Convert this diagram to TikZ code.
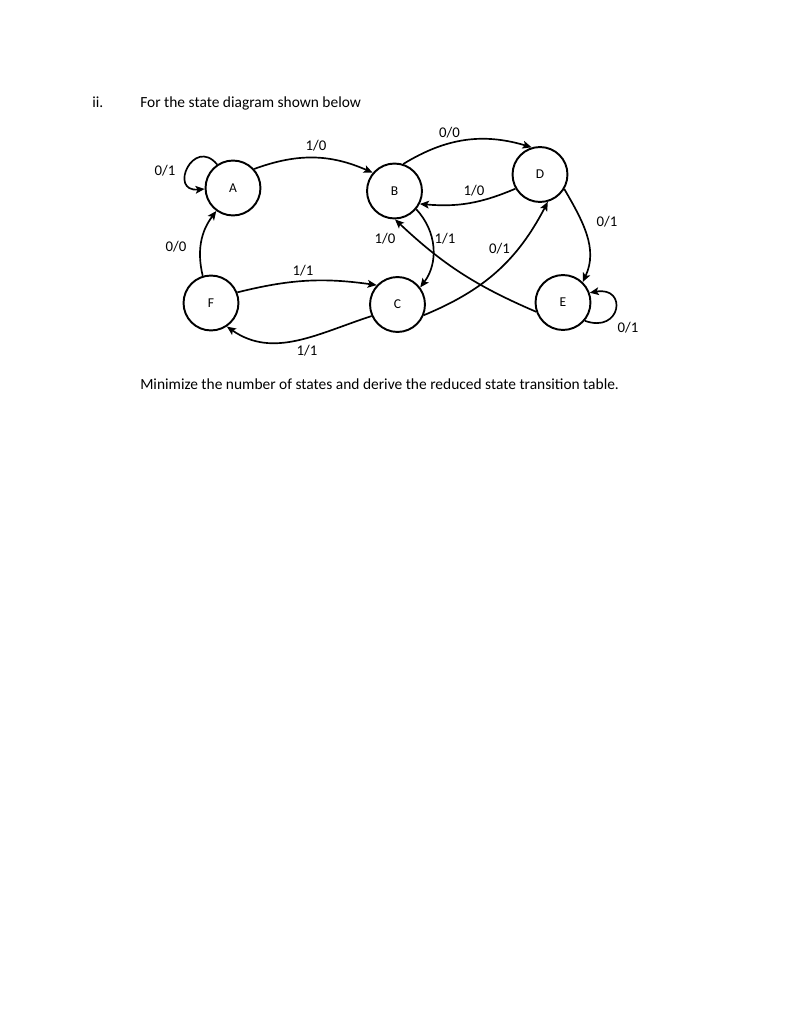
\documentclass[tikz,border=0pt]{standalone}
\usepackage{fontspec}
\setmainfont{Carlito}
\usetikzlibrary{arrows.meta,positioning}

\begin{document}
\begin{tikzpicture}[x=0.7737bp,y=0.7737bp,
		sn/.style={circle,draw,line width=1.5pt,minimum size=42.5bp,inner sep=0pt,font=\fontsize{10.5}{12}\selectfont},
		tr/.style={line width=1.3pt,-{Stealth[length=7pt,width=6pt,inset=1.5pt]}},
		lbl/.style={font=\fontsize{11.5}{13}\selectfont,inner sep=0pt}]
		\useasboundingbox (0,0) rectangle (791,-1024);

		\node[lbl,anchor=base west,font=\fontsize{12}{14}\selectfont] (num) at (92,-108) {ii.};
		\node[lbl,anchor=base west,font=\fontsize{12}{14}\selectfont] (title) at (140,-108) {For the state diagram shown below};
		\node[lbl,anchor=base west,font=\fontsize{12}{14}\selectfont] (task) at (140,-389) {Minimize the number of states and derive the reduced state transition table.};

		\node[sn] (A) at (233,-188) {A};
		\node[sn] (B) at (394.5,-191) {B};
		\node[sn] (D) at (540,-174.5) {D};
		\node[sn] (F) at (211,-303) {F};
		\node[sn] (C) at (397.5,-304.5) {C};
		\node[sn] (E) at (563,-302.5) {E};

		\node[lbl] (lAA) at (165,-171) {0/1};
		\node[lbl] (lAB) at (316,-146) {1/0};
		\node[lbl] (lBD) at (449.5,-132.5) {0/0};
		\node[lbl] (lDB) at (474,-190.5) {1/0};
		\node[lbl] (lBC) at (445,-239) {1/1};
		\node[lbl] (lEB) at (385,-239) {1/0};
		\node[lbl] (lCD) at (499.5,-249) {0/1};
		\node[lbl] (lDE) at (607,-222) {0/1};
		\node[lbl] (lEE) at (628,-328) {0/1};
		\node[lbl] (lFA) at (176,-247) {0/0};
		\node[lbl] (lFC) at (303,-270.5) {1/1};
		\node[lbl] (lCF) at (307,-350.5) {1/1};

		\draw[tr] (A.124) to[out=130,in=185,looseness=3.4] (A.182);
		\draw[tr] (A.42) to[bend left=22] (B.140);
		\draw[tr] (B.72) to[bend left=24] (D.107);
		\draw[tr] (D.210) to[bend left=14] (B.-27);
		\draw[tr] (B.-40) to[bend left=40] (C.37);
		\draw[tr] (E.199) to[bend left=10] (B.-89);
		\draw[tr] (C.-22) to[bend right=20] (D.-74);
		\draw[tr] (D.-31) to[out=-60,in=65] (E.46);
		\draw[tr] (E.-40) to[out=-20,in=10,looseness=3.5] (E.20);
		\draw[tr] (F.107) to[bend left=25] (A.234);
		\draw[tr] (F.22) to[bend left=11] (C.137);
		\draw[tr] (C.204) to[out=198,in=-35] (F.-56);
	\end{tikzpicture}
\end{document}
